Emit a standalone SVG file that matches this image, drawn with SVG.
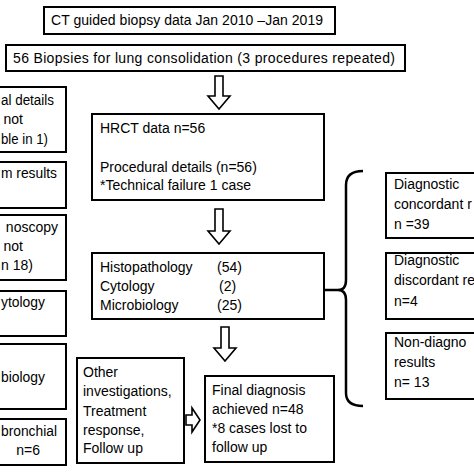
<svg xmlns="http://www.w3.org/2000/svg" width="474" height="474" viewBox="0 0 474 474">
<style>
.b{fill:#fff;stroke:#000;stroke-width:2}
.t{font-family:"Liberation Sans",Arial,sans-serif;font-size:14px;fill:#000}
.e{text-anchor:end}
.a{fill:#fff;stroke:#000;stroke-width:1.6;stroke-linejoin:miter}
.c{fill:none;stroke:#000;stroke-width:2.5}
</style>
<rect width="474" height="474" fill="#fff"/>
<g id="top1"><rect class="b" x="44" y="7" width="291" height="27"/><text class="t" x="51" y="25" textLength="272">CT guided biopsy data Jan 2010 –Jan 2019</text></g>
<g id="top2"><rect class="b" x="6" y="45" width="399" height="26"/><text class="t" x="13" y="63" textLength="382">56 Biopsies for lung consolidation (3 procedures repeated)</text></g>
<g id="hrct"><rect class="b" x="92" y="114" width="232" height="86"/>
<text class="t" x="100" y="133">HRCT data n=56</text>
<text class="t" x="100" y="172">Procedural details (n=56)</text>
<text class="t" x="100" y="190">*Technical failure 1 case</text></g>
<g id="histo"><rect class="b" x="92" y="253" width="232" height="66"/>
<text class="t" x="100" y="272">Histopathology</text><text class="t" x="217" y="272">(54)</text>
<text class="t" x="100" y="291">Cytology</text><text class="t" x="219" y="291">(2)</text>
<text class="t" x="100" y="310">Microbiology</text><text class="t" x="217" y="310">(25)</text></g>
<g id="other"><rect class="b" x="77" y="358" width="107" height="105"/>
<text class="t" x="83" y="377">Other</text>
<text class="t" x="83" y="396">investigations,</text>
<text class="t" x="83" y="416">Treatment</text>
<text class="t" x="83" y="435">response,</text>
<text class="t" x="83" y="453">Follow up</text></g>
<g id="final"><rect class="b" x="205" y="376" width="129" height="86"/>
<text class="t" x="212" y="395">Final diagnosis</text>
<text class="t" x="212" y="414">achieved n=48</text>
<text class="t" x="212" y="433">*8 cases lost to</text>
<text class="t" x="212" y="452">follow up</text></g>
<g id="left1"><rect class="b" x="-10" y="87" width="76" height="65"/>
<text class="t" x="1" y="105" textLength="53" lengthAdjust="spacingAndGlyphs">al details</text><text class="t e" x="23" y="124">not</text><text class="t" x="1" y="144" textLength="47" lengthAdjust="spacingAndGlyphs">ble in 1)</text></g>
<g id="left2"><rect class="b" x="-10" y="162" width="76" height="46"/><text class="t" x="1" y="178" textLength="56" lengthAdjust="spacingAndGlyphs">m results</text></g>
<g id="left3"><rect class="b" x="-10" y="215" width="76" height="65"/>
<text class="t e" x="58" y="232">noscopy</text><text class="t e" x="23" y="251">not</text><text class="t e" x="33" y="270">n 18)</text></g>
<g id="left4"><rect class="b" x="-10" y="291" width="76" height="45"/><text class="t" x="1" y="307" textLength="44" lengthAdjust="spacingAndGlyphs">ytology</text></g>
<g id="left5"><rect class="b" x="-10" y="344" width="76" height="65"/><text class="t" x="1" y="382" textLength="44" lengthAdjust="spacingAndGlyphs">biology</text></g>
<g id="left6"><rect class="b" x="-10" y="419" width="76" height="46"/>
<text class="t" x="1" y="436" textLength="56" lengthAdjust="spacingAndGlyphs">bronchial</text><text class="t e" x="40" y="455">n=6</text></g>
<g id="r1"><rect class="b" x="386" y="173" width="100" height="65"/>
<text class="t" x="394" y="189">Diagnostic</text><text class="t" x="394" y="209">concordant r</text><text class="t" x="394" y="229">n =39</text></g>
<g id="r2"><rect class="b" x="386" y="253" width="100" height="66"/>
<text class="t" x="394" y="265">Diagnostic</text><text class="t" x="394" y="285">discordant re</text><text class="t" x="394" y="306">n=4</text></g>
<g id="r3"><rect class="b" x="386" y="333" width="100" height="66"/>
<text class="t" x="394" y="347">Non-diagno</text><text class="t" x="394" y="367">results</text><text class="t" x="394" y="387">n= 13</text></g>
<g id="connectors">
<path class="a" d="M215,76 H223 V96 H230 L219,109 L208,96 H215 Z"/>
<path class="a" d="M215,209 H223 V231 H230 L219,244 L208,231 H215 Z"/>
<path class="a" d="M221,327 H229 V348 H236 L225,361 L214,348 H221 Z"/>
<path class="a" d="M186,415 H192 V408 L200,420 L192,432 V425 H186 Z"/>
<path class="c" d="M324,290 H338"/>
<path class="c" d="M363,171 Q346,171 346,185 V280 Q346,290 338,290 Q346,290 346,300 V393 Q346,406 363,406"/>
</g>
</svg>
